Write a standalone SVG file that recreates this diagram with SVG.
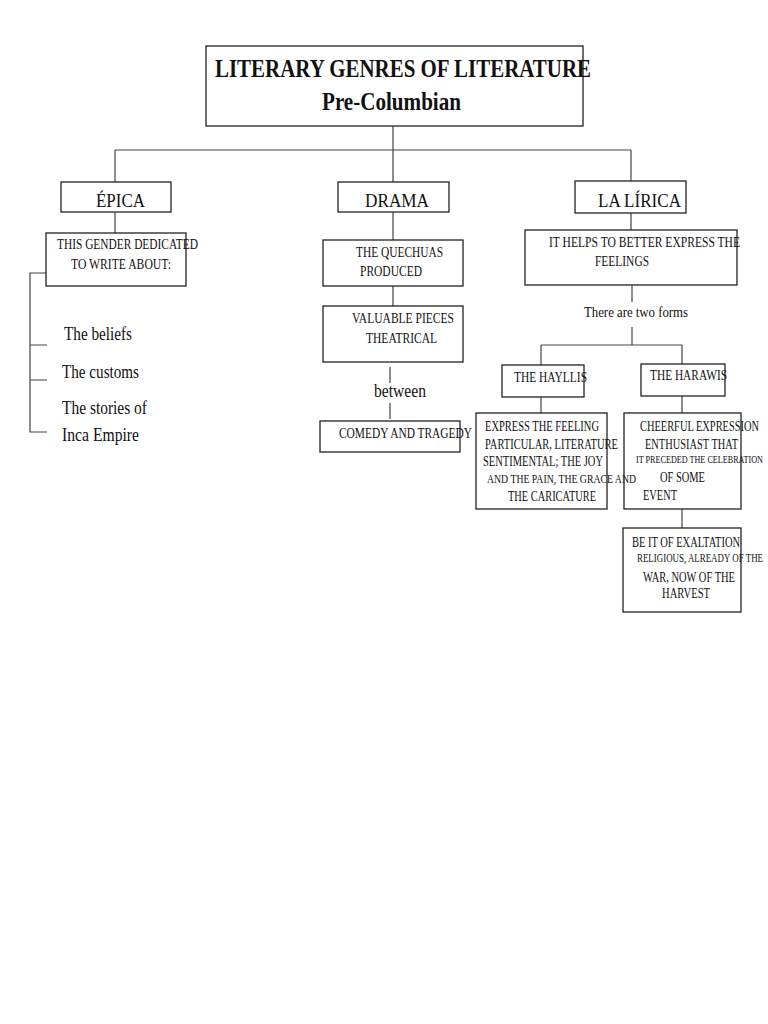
<svg xmlns="http://www.w3.org/2000/svg" width="768" height="1024" viewBox="0 0 768 1024">
<style>
.b{fill:none;stroke:#222;stroke-width:1.3}
.c{fill:none;stroke:#444;stroke-width:1.2}
text{font-family:"Liberation Serif","Times New Roman",serif;fill:#111}
.t{font-size:25px;font-weight:bold}
.h{font-size:19px}
.s{font-size:15px}
.x{font-size:12px}
.l{font-size:18px}
.m{font-size:15px}
</style>
<rect width="768" height="1024" fill="#fff"/>
<g id="connectors">
<path class="c" d="M393 126V150M115 150H631M115 150V182M393 150V182M631 150V181"/>
<path class="c" d="M115 212V233"/>
<path class="c" d="M46 273H30V432H47M30 345H47M30 380H47"/>
<path class="c" d="M393 212V240M393 286V306M390 367V383M390 403V419"/>
<path class="c" d="M631 213V230M632 285V302M632 327V345M541 345H682M541 345V365M682 345V364"/>
<path class="c" d="M541 397V413M682 396V413M682 509V528"/>
</g>
<g id="title">
<rect class="b" x="206" y="46" width="377" height="80"/>
<text class="t" x="215" y="77" textLength="376" lengthAdjust="spacingAndGlyphs">LITERARY GENRES OF LITERATURE</text>
<text class="t" x="322" y="110" textLength="139" lengthAdjust="spacingAndGlyphs">Pre-Columbian</text>
</g>
<g id="epica">
<rect class="b" x="61" y="182" width="110" height="30"/>
<text class="h" x="96" y="207" textLength="49" lengthAdjust="spacingAndGlyphs">ÉPICA</text>
</g>
<g id="drama">
<rect class="b" x="338" y="182" width="111" height="30"/>
<text class="h" x="365" y="207" textLength="64" lengthAdjust="spacingAndGlyphs">DRAMA</text>
</g>
<g id="lirica">
<rect class="b" x="575" y="181" width="111" height="32"/>
<text class="h" x="598" y="207" textLength="83" lengthAdjust="spacingAndGlyphs">LA LÍRICA</text>
</g>
<g id="epica-desc">
<rect class="b" x="46" y="233" width="140" height="53"/>
<text class="s" x="57" y="249" textLength="141" lengthAdjust="spacingAndGlyphs">THIS GENDER DEDICATED</text>
<text class="s" x="71" y="269" textLength="100" lengthAdjust="spacingAndGlyphs">TO WRITE ABOUT:</text>
</g>
<g id="epica-items">
<text class="l" x="64" y="340" textLength="68" lengthAdjust="spacingAndGlyphs">The beliefs</text>
<text class="l" x="62" y="378" textLength="77" lengthAdjust="spacingAndGlyphs">The customs</text>
<text class="l" x="62" y="414" textLength="85" lengthAdjust="spacingAndGlyphs">The stories of</text>
<text class="l" x="62" y="441" textLength="77" lengthAdjust="spacingAndGlyphs">Inca Empire</text>
</g>
<g id="quechuas">
<rect class="b" x="323" y="240" width="140" height="46"/>
<text class="s" x="356" y="257" textLength="87" lengthAdjust="spacingAndGlyphs">THE QUECHUAS</text>
<text class="s" x="360" y="276" textLength="62" lengthAdjust="spacingAndGlyphs">PRODUCED</text>
</g>
<g id="pieces">
<rect class="b" x="323" y="306" width="140" height="56"/>
<text class="s" x="352" y="323" textLength="102" lengthAdjust="spacingAndGlyphs">VALUABLE PIECES</text>
<text class="s" x="366" y="343" textLength="71" lengthAdjust="spacingAndGlyphs">THEATRICAL</text>
</g>
<g id="between">
<text class="l" x="374" y="397" textLength="52" lengthAdjust="spacingAndGlyphs">between</text>
</g>
<g id="comedy">
<rect class="b" x="320" y="421" width="140" height="31"/>
<text class="s" x="339" y="438" textLength="133" lengthAdjust="spacingAndGlyphs">COMEDY AND TRAGEDY</text>
</g>
<g id="feelings">
<rect class="b" x="525" y="230" width="212" height="55"/>
<text class="s" x="549" y="247" textLength="191" lengthAdjust="spacingAndGlyphs">IT HELPS TO BETTER EXPRESS THE</text>
<text class="s" x="595" y="266" textLength="54" lengthAdjust="spacingAndGlyphs">FEELINGS</text>
</g>
<g id="two-forms">
<text class="m" x="584" y="317" textLength="104" lengthAdjust="spacingAndGlyphs">There are two forms</text>
</g>
<g id="hayllis">
<rect class="b" x="502" y="365" width="82" height="32"/>
<text class="s" x="514" y="382" textLength="73" lengthAdjust="spacingAndGlyphs">THE HAYLLIS</text>
</g>
<g id="harawis">
<rect class="b" x="641" y="364" width="84" height="32"/>
<text class="s" x="650" y="380" textLength="77" lengthAdjust="spacingAndGlyphs">THE HARAWIS</text>
</g>
<g id="hayllis-desc">
<rect class="b" x="476" y="413" width="131" height="96"/>
<text class="s" x="485" y="431" textLength="114" lengthAdjust="spacingAndGlyphs">EXPRESS THE FEELING</text>
<text class="s" x="485" y="449" textLength="133" lengthAdjust="spacingAndGlyphs">PARTICULAR, LITERATURE</text>
<text class="s" x="483" y="466" textLength="120" lengthAdjust="spacingAndGlyphs">SENTIMENTAL; THE JOY</text>
<text class="x" x="487" y="483" textLength="149" lengthAdjust="spacingAndGlyphs">AND THE PAIN, THE GRACE AND</text>
<text class="s" x="508" y="501" textLength="88" lengthAdjust="spacingAndGlyphs">THE CARICATURE</text>
</g>
<g id="harawis-desc">
<rect class="b" x="624" y="413" width="117" height="96"/>
<text class="s" x="640" y="431" textLength="119" lengthAdjust="spacingAndGlyphs">CHEERFUL EXPRESSION</text>
<text class="s" x="645" y="449" textLength="93" lengthAdjust="spacingAndGlyphs">ENTHUSIAST THAT</text>
<text style="font-size:10px" x="636" y="463" textLength="127" lengthAdjust="spacingAndGlyphs">IT PRECEDED THE CELEBRATION</text>
<text class="s" x="660" y="482" textLength="45" lengthAdjust="spacingAndGlyphs">OF SOME</text>
<text class="s" x="643" y="500" textLength="34" lengthAdjust="spacingAndGlyphs">EVENT</text>
</g>
<g id="exaltation">
<rect class="b" x="623" y="528" width="118" height="84"/>
<text class="s" x="632" y="547" textLength="108" lengthAdjust="spacingAndGlyphs">BE IT OF EXALTATION</text>
<text class="x" x="637" y="562" textLength="126" lengthAdjust="spacingAndGlyphs">RELIGIOUS, ALREADY OF THE</text>
<text class="s" x="643" y="582" textLength="92" lengthAdjust="spacingAndGlyphs">WAR, NOW OF THE</text>
<text class="s" x="662" y="598" textLength="48" lengthAdjust="spacingAndGlyphs">HARVEST</text>
</g>
</svg>
